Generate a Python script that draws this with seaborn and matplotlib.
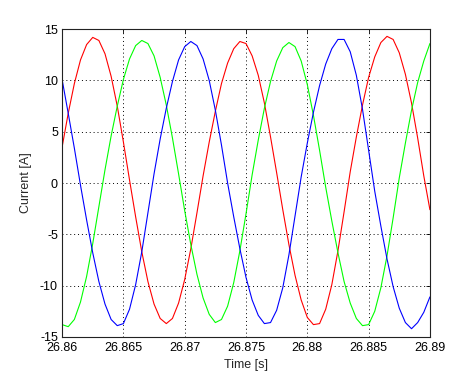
import numpy as np
import pandas as pd
import seaborn as sns
from matplotlib import pyplot as plt

# sample times, offset from 26.86 s in milliseconds (0.5 ms steps)
time_ms = [i * 0.5 for i in range(61)]

phase_red = [
	3.5, 6.8, 9.7, 12.0, 13.5, 14.2, 13.9, 12.6, 10.4, 7.5, 4.0, 0.3,
	-3.3, -6.7, -9.6, -11.8, -13.2, -13.7, -13.2, -11.7, -9.4, -6.4, -2.9,
	0.7, 4.0, 7.0, 9.7, 11.7, 13.1, 13.8, 13.6, 12.4, 10.5, 7.8, 4.5, 1.0,
	-2.6, -6.0, -9.0, -11.4, -13.1, -13.8, -13.7, -12.3, -9.9, -6.6, -2.8,
	1.1, 4.5, 7.6, 10.3, 12.3, 13.7, 14.3, 14.0, 12.7, 10.6, 7.8, 4.4, 0.7, -2.6,
]
phase_green = [
	-13.8, -14.0, -13.3, -11.6, -9.1, -5.9, -2.3, 1.3, 4.6, 7.5, 10.1, 12.1,
	13.4, 13.9, 13.6, 12.4, 10.3, 7.6, 4.4, 0.9, -2.7, -6.0, -8.9, -11.2,
	-12.8, -13.6, -13.3, -12.0, -9.7, -6.6, -3.0, 0.8, 4.2, 7.3, 9.9, 11.9,
	13.2, 13.7, 13.3, 11.9, 9.6, 6.6, 3.2, -0.4, -3.7, -6.8, -9.6, -11.7,
	-13.2, -13.9, -13.8, -12.5, -10.2, -7.1, -3.4, 0.5, 3.9, 7.1, 9.8, 11.9, 13.6,
]
phase_blue = [
	10.1, 6.8, 3.4, -0.2, -3.6, -6.8, -9.6, -11.8, -13.3, -13.9, -13.7, -12.3,
	-9.9, -6.7, -2.9, 0.9, 4.3, 7.3, 9.9, 12.0, 13.3, 13.8, 13.4, 12.1, 10.0,
	7.1, 3.7, 0.0, -3.3, -6.4, -9.2, -11.4, -12.9, -13.7, -13.6, -12.4, -10.2,
	-7.0, -3.2, 0.6, 3.9, 6.9, 9.5, 11.6, 13.1, 14.0, 14.0, 12.8, 10.5, 7.2,
	3.2, -0.8, -4.2, -7.4, -10.1, -12.2, -13.6, -14.2, -13.6, -12.6, -11.1,
]

t = 26.86 + np.array(time_ms) / 1000.0
df = pd.DataFrame({
	'time': np.tile(t, 3),
	'current': phase_red + phase_green + phase_blue,
	'phase': ['a'] * 61 + ['b'] * 61 + ['c'] * 61,
})

sns.set_theme(style='white')
plt.rcParams['font.family'] = ['Liberation Sans', 'DejaVu Sans']

fig = plt.figure(figsize=(4.74, 3.79), dpi=100)
ax = fig.add_axes([0.131, 0.111, 0.776, 0.812])

sns.lineplot(data=df, x='time', y='current', hue='phase',
	palette={'a': '#ff0000', 'b': '#00ff00', 'c': '#0000ff'},
	linewidth=0.8, legend=False, ax=ax, estimator=None)

xticks = [26.86, 26.865, 26.87, 26.875, 26.88, 26.885, 26.89]
xlabels = ['26.86', '26.865', '26.87', '26.875', '26.88', '26.885', '26.89']
yticks = [-15, -10, -5, 0, 5, 10, 15]

ax.set_xlim(26.86, 26.89)
ax.set_ylim(-15, 15)
ax.set_xticks(xticks)
ax.set_xticklabels(xlabels)
ax.set_yticks(yticks)
ax.set_yticklabels([str(v) for v in yticks])
ax.grid(True, linestyle=(0, (1, 3)), color='black', linewidth=0.7)
ax.tick_params(direction='in', length=3, width=0.6, top=True, right=True,
	labelsize=9, colors='black')
ax.tick_params(axis='x', pad=4)
ax.tick_params(axis='y', pad=3)
for s in ax.spines.values():
	s.set_color('#222222')
	s.set_linewidth(0.8)

ax.set_xlabel('Time [s]', fontsize=9, labelpad=3)
ax.set_ylabel('Current [A]', fontsize=9, labelpad=6)

plt.savefig('out.png', dpi=100)
